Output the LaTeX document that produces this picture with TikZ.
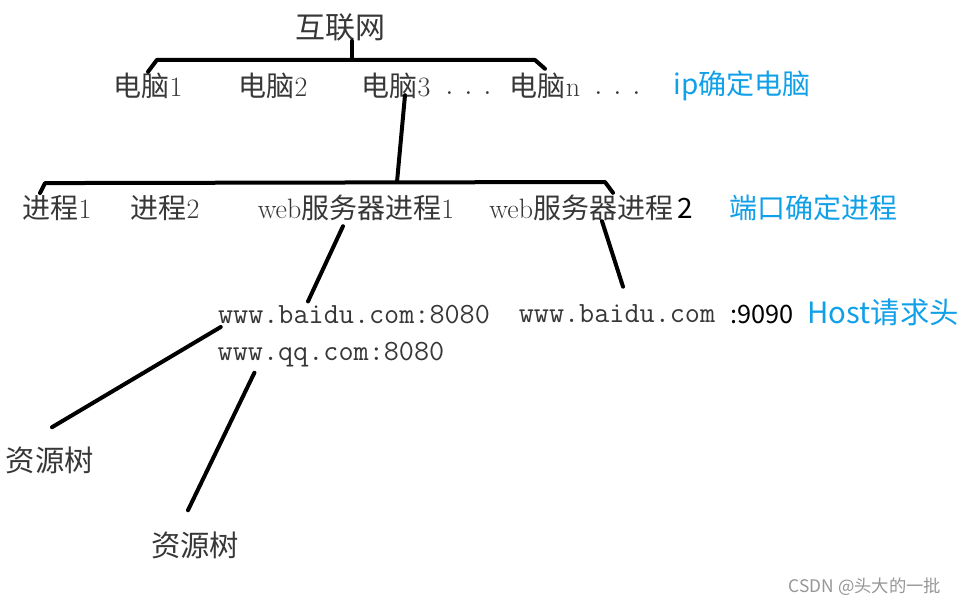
\documentclass[tikz,border=0pt]{standalone}
\usepackage{fontspec}
\newfontfamily\cjk{Noto Sans CJK SC}
\usetikzlibrary{positioning,calc}
\definecolor{inkgray}{RGB}{55,55,55}
\definecolor{noteblue}{RGB}{16,160,232}
\definecolor{markgray}{RGB}{150,150,150}

\begin{document}
\begin{tikzpicture}[x=0.75pt, y=-0.75pt,
    word/.style={inner sep=0pt, text=inkgray, font=\fontsize{21}{21}\selectfont},
    host/.style={inner sep=0pt, text=inkgray, font=\ttfamily\fontsize{22}{22}\selectfont},
    note/.style={inner sep=0pt, text=noteblue, font=\cjk\fontsize{21}{21}\selectfont},
    link/.style={line width=3pt, line cap=round, line join=round}]
    \useasboundingbox (0,0) rectangle (967,606);

    % top
    \node[word, font=\cjk\fontsize{22.5}{22.5}\selectfont] (net) at (340,27) {互联网};

    % computers
    \node[word] (pc1) at (148,86) {{\cjk 电脑}1};
    \node[word] (pc2) at (273,86) {{\cjk 电脑}2};
    \node[word] (pc3) at (396,86) {{\cjk 电脑}3};
    \node[word, font=\fontsize{26}{26}\selectfont] (dots1) at (469,93) {.\hspace{8pt}.\hspace{8pt}.};
    \node[word] (pcn) at (545,86) {{\cjk 电脑}n};
    \node[word, font=\fontsize{26}{26}\selectfont] (dots2) at (618,93) {.\hspace{8pt}.\hspace{8pt}.};
    \node[note] (ipnote) at (742,86) {ip确定电脑};

    % processes
    \node[word] (proc1) at (57,208) {{\cjk 进程}1};
    \node[word] (proc2) at (165,208) {{\cjk 进程}2};
    \node[word] (web1) at (356,208) {web{\cjk 服务器进程}1};
    \node[word] (web2) at (591,208) {web{\cjk 服务器进程}\hspace{3pt}\textcolor{black}{\cjk 2}};
    \node[note] (portnote) at (813,208) {端口确定进程};

    % hosts
    \node[host] (baidu) at (354,315) {www.baidu.com:8080};
    \node[host] (qq) at (331,355) {www.qq.com:8080};
    \node[host] (baidu2) at (617,314) {www.baidu.com};
    \node[word, right=11pt of baidu2, text=black, font=\cjk\fontsize{19}{19}\selectfont] (port) {:9090};
    \node[note, font=\cjk\fontsize{22}{22}\selectfont] (hostnote) at (883,312) {Host请求头};

    % trees
    \node[word, font=\cjk\fontsize{22}{22}\selectfont] (tree1) at (50,460) {资源树};
    \node[word, font=\cjk\fontsize{22}{22}\selectfont] (tree2) at (195,545) {资源树};

    \node[inner sep=0pt, text=markgray, font=\cjk\fontsize{13}{13}\selectfont] (mark) at (865,587) {CSDN @头大的一批};

    % links
    \coordinate (hub1) at (352,60);
    \coordinate (end1) at (535,60);
    \draw[link] (net.south -| hub1) -- (hub1);
    \draw[link] ($(pc1.north)+(0,-1)$) -- ++(9,-12) -- (end1) -- ($(pcn.north)+(0,-4)$);

    \coordinate (hub2) at (397,182);
    \coordinate (end2) at (605,182);
    \draw[link] ($(pc3.south)+(9,-4)$) -- (hub2);
    \draw[link] ($(proc1.north)+(-17,-2)$) -- ++(5,-10) -- (end2) -- ($(web2.north)+(22,-2)$);

    \draw[link] ($(web1.south)+(-13,5)$) -- ($(baidu.north)+(-46,-4)$);
    \draw[link] ($(web2.south)+(11,0)$) -- ($(baidu2.north)+(6,-18)$);
    \draw[link] ($(baidu.west)+(3,12)$) -- ($(tree1.north)+(2,-19)$);
    \draw[link] ($(qq.south west)+(37,5)$) -- ($(tree2.north)+(-7,-21)$);
\end{tikzpicture}
\end{document}
